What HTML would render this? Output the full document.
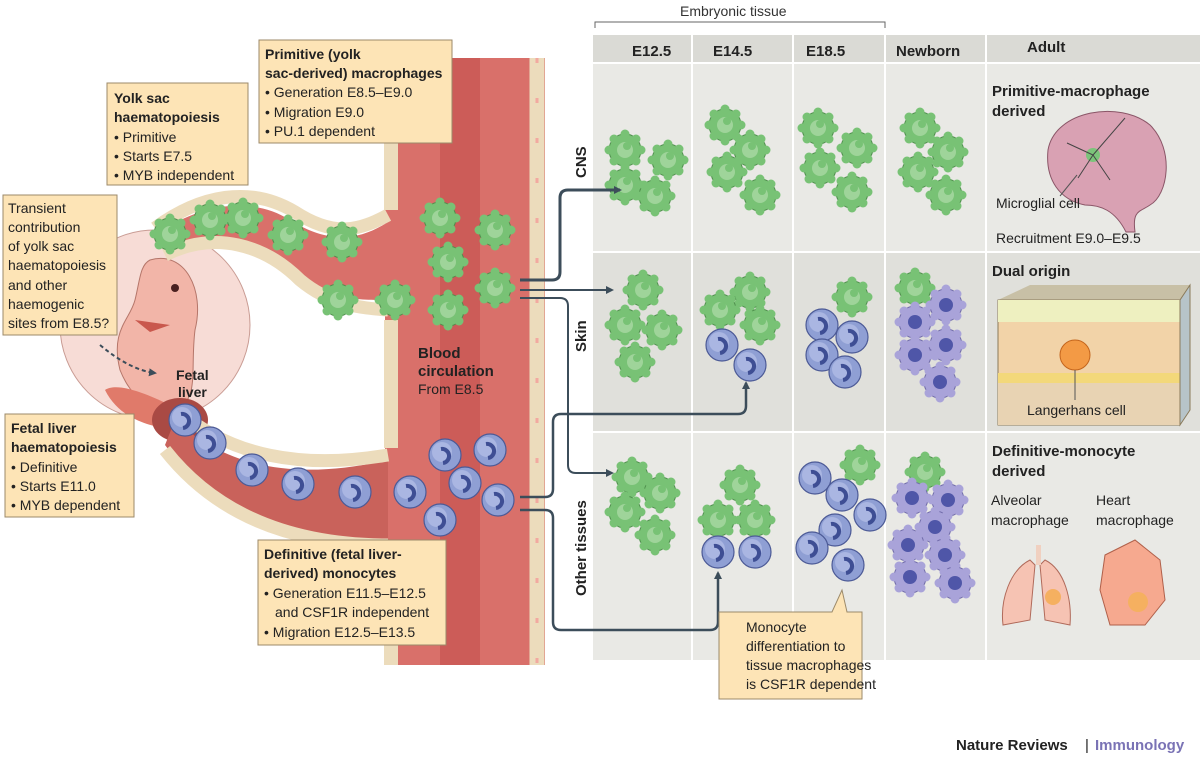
<!DOCTYPE html>
<html><head><meta charset="utf-8"><style>
body{margin:0;background:#fff}
svg text{font-family:"Liberation Sans",sans-serif}
</style></head><body>
<svg width="1200" height="760" viewBox="0 0 1200 760" xmlns="http://www.w3.org/2000/svg">
<defs>
<g id="g">
 <circle r="16" fill="#78c275" stroke="#4e8f4c" stroke-width="1"/>
 <circle cx="0" cy="-16" r="4.5" fill="#78c275"/><circle cx="11" cy="-11" r="4.5" fill="#78c275"/>
 <circle cx="16" cy="0" r="4.5" fill="#78c275"/><circle cx="11" cy="11" r="4.5" fill="#78c275"/>
 <circle cx="0" cy="16" r="4.5" fill="#78c275"/><circle cx="-11" cy="11" r="4.5" fill="#78c275"/>
 <circle cx="-16" cy="0" r="4.5" fill="#78c275"/><circle cx="-11" cy="-11" r="4.5" fill="#78c275"/>
 <circle r="8" fill="#9fd49a"/><circle cx="2" cy="-4" r="4" fill="#78c275"/>
</g>
<g id="p">
 <circle r="16" fill="#a9a3d9" stroke="#6f6aa8" stroke-width="1"/>
 <circle cx="0" cy="-16" r="4.5" fill="#a9a3d9"/><circle cx="11" cy="-11" r="4.5" fill="#a9a3d9"/>
 <circle cx="16" cy="0" r="4.5" fill="#a9a3d9"/><circle cx="11" cy="11" r="4.5" fill="#a9a3d9"/>
 <circle cx="0" cy="16" r="4.5" fill="#a9a3d9"/><circle cx="-11" cy="11" r="4.5" fill="#a9a3d9"/>
 <circle cx="-16" cy="0" r="4.5" fill="#a9a3d9"/><circle cx="-11" cy="-11" r="4.5" fill="#a9a3d9"/>
 <circle r="7" fill="#4f56a8"/>
</g>
<g id="b">
 <circle r="16" fill="#8f9fd4" stroke="#4c5a96" stroke-width="1.2"/>
 <circle cx="-3" cy="-3" r="10" fill="#aab6e2"/>
 <path d="M-4 -6 A6 6 0 1 1 -2 8" fill="none" stroke="#3e4e94" stroke-width="4"/>
</g>
<marker id="ah" markerWidth="8" markerHeight="8" refX="6" refY="4" orient="auto" markerUnits="userSpaceOnUse"><path d="M0 0 L8 4 L0 8 z" fill="#3c4d5a"/></marker>
</defs>

<rect x="593" y="35" width="607" height="625" fill="#e9e9e5"/>
<rect x="593" y="35" width="607" height="28" fill="#dadad5"/>
<rect x="593" y="252" width="607" height="180" fill="#e0e0db"/>
<g stroke="#fff" stroke-width="2">
<line x1="692" y1="35" x2="692" y2="660"/><line x1="793" y1="35" x2="793" y2="660"/>
<line x1="885" y1="35" x2="885" y2="660"/><line x1="986" y1="35" x2="986" y2="660"/>
<line x1="593" y1="63" x2="1200" y2="63"/><line x1="593" y1="252" x2="1200" y2="252"/><line x1="593" y1="432" x2="1200" y2="432"/>
</g>
<path d="M595 28 V22 H885 V28" fill="none" stroke="#666" stroke-width="1"/>
<text x="680" y="16" font-size="14" fill="#333">Embryonic tissue</text>
<g font-size="15" font-weight="bold" fill="#222">
<text x="632" y="56">E12.5</text><text x="713" y="56">E14.5</text><text x="806" y="56">E18.5</text><text x="896" y="56">Newborn</text><text x="1027" y="52">Adult</text>
<text x="992" y="96">Primitive-macrophage</text><text x="992" y="116">derived</text>
<text x="992" y="276">Dual origin</text>
<text x="992" y="456">Definitive-monocyte</text><text x="992" y="476">derived</text>
</g>
<g font-size="15" font-weight="bold" fill="#222">
<text transform="translate(586,178) rotate(-90)">CNS</text>
<text transform="translate(586,352) rotate(-90)">Skin</text>
<text transform="translate(586,596) rotate(-90)">Other tissues</text>
</g>

<path d="M1048 150 C1055 110 1120 100 1150 125 C1175 150 1168 195 1150 205 C1140 212 1132 210 1135 232 L1126 232 C1115 210 1100 205 1085 205 C1060 200 1045 180 1048 150 Z" fill="#d9a1b3" stroke="#8a5567" stroke-width="1"/>
<circle cx="1093" cy="155" r="7" fill="#7cc47a"/>
<path d="M1093 155 L1125 118 M1093 155 L1067 143 M1093 155 L1078 178 M1093 155 L1110 180" stroke="#444" stroke-width="1" fill="none"/>
<line x1="1077" y1="175" x2="1060" y2="196" stroke="#555"/>
<text x="996" y="208" font-size="14" fill="#222">Microglial cell</text>
<text x="996" y="243" font-size="14" fill="#222">Recruitment E9.0–E9.5</text>

<path d="M998 300 L1030 285 L1190 285 L1190 410 L1180 425 Z" fill="#c8c0a6"/>
<rect x="998" y="300" width="182" height="125" fill="#f2d3a8" stroke="#8a7a5a"/>
<rect x="998" y="300" width="182" height="22" fill="#eef0c0"/>
<rect x="998" y="373" width="182" height="10" fill="#f3d87a"/>
<rect x="998" y="383" width="182" height="42" fill="#e8d3b3"/>
<path d="M1180 300 L1190 285 L1190 410 L1180 425 Z" fill="#b7c4c9" stroke="#8a7a5a"/>
<circle cx="1075" cy="355" r="15" fill="#f39a45" stroke="#c4651c"/>
<line x1="1075" y1="370" x2="1075" y2="400" stroke="#555"/>
<text x="1027" y="415" font-size="14" fill="#222">Langerhans cell</text>

<text x="991" y="505" font-size="14" fill="#222">Alveolar</text><text x="991" y="525" font-size="14" fill="#222">macrophage</text>
<text x="1096" y="505" font-size="14" fill="#222">Heart</text><text x="1096" y="525" font-size="14" fill="#222">macrophage</text>
<path d="M1030 560 C1010 570 1000 600 1003 625 L1030 620 L1035 565 Z" fill="#f6c3b3" stroke="#b06a5a"/>
<path d="M1045 560 C1065 570 1072 600 1070 625 L1045 620 L1040 565 Z" fill="#f6c3b3" stroke="#b06a5a"/>
<rect x="1036" y="545" width="5" height="20" fill="#f0d0c0"/>
<circle cx="1053" cy="597" r="8" fill="#f5b060"/>
<path d="M1105 555 L1135 540 L1160 560 L1165 600 L1145 625 L1110 625 L1100 590 Z" fill="#f6a98f" stroke="#b0604a"/>
<circle cx="1138" cy="602" r="10" fill="#f5b060"/>

<g>
<use href="#g" x="625" y="150"/><use href="#g" x="668" y="160"/><use href="#g" x="625" y="185"/><use href="#g" x="655" y="196"/>
<use href="#g" x="725" y="125"/><use href="#g" x="750" y="150"/><use href="#g" x="727" y="172"/><use href="#g" x="760" y="195"/>
<use href="#g" x="818" y="128"/><use href="#g" x="857" y="148"/><use href="#g" x="820" y="168"/><use href="#g" x="852" y="192"/>
<use href="#g" x="920" y="128"/><use href="#g" x="948" y="152"/><use href="#g" x="918" y="172"/><use href="#g" x="946" y="195"/>
<use href="#g" x="643" y="290"/><use href="#g" x="625" y="325"/><use href="#g" x="662" y="330"/><use href="#g" x="635" y="362"/>
<use href="#g" x="750" y="292"/><use href="#g" x="720" y="310"/><use href="#g" x="760" y="325"/>
<use href="#b" x="722" y="345"/><use href="#b" x="750" y="365"/>
<use href="#g" x="852" y="297"/><use href="#b" x="822" y="325"/><use href="#b" x="852" y="337"/><use href="#b" x="822" y="355"/><use href="#b" x="845" y="372"/>
<use href="#g" x="915" y="288"/><use href="#p" x="946" y="305"/><use href="#p" x="915" y="322"/><use href="#p" x="946" y="345"/><use href="#p" x="915" y="355"/><use href="#p" x="940" y="382"/>
<use href="#g" x="632" y="477"/><use href="#g" x="660" y="493"/><use href="#g" x="625" y="512"/><use href="#g" x="655" y="535"/>
<use href="#g" x="740" y="485"/><use href="#g" x="718" y="520"/><use href="#g" x="755" y="520"/>
<use href="#b" x="718" y="552"/><use href="#b" x="755" y="552"/>
<use href="#g" x="860" y="465"/><use href="#b" x="815" y="478"/><use href="#b" x="842" y="495"/><use href="#b" x="870" y="515"/><use href="#b" x="835" y="530"/><use href="#b" x="812" y="548"/><use href="#b" x="848" y="565"/>
<use href="#g" x="925" y="472"/><use href="#p" x="912" y="498"/><use href="#p" x="948" y="500"/><use href="#p" x="935" y="527"/><use href="#p" x="908" y="545"/><use href="#p" x="945" y="555"/><use href="#p" x="910" y="577"/><use href="#p" x="955" y="583"/>
</g>

<circle cx="155" cy="325" r="95" fill="#f7dcd6" stroke="#c99c94"/>
<path d="M150 260 C185 250 205 290 195 330 C190 370 200 400 175 410 C150 415 130 395 120 370 C110 330 130 320 135 300 C140 280 140 265 150 260 Z" fill="#f2b5a8" stroke="#b5766a"/>
<circle cx="175" cy="288" r="4" fill="#4a2020"/>
<path d="M135 320 L170 325 L150 332 Z" fill="#c9584d"/>
<path d="M105 390 C120 380 160 400 180 410 L170 430 C150 425 120 420 105 390 Z" fill="#e07a6a"/>
<ellipse cx="180" cy="420" rx="28" ry="22" fill="#a94a44"/>
<path d="M100 345 Q130 370 155 373" fill="none" stroke="#3c4d5a" stroke-width="2" stroke-dasharray="4 3" marker-end="url(#ah)"/>
<text x="176" y="380" font-size="14" font-weight="bold" fill="#222">Fetal</text>
<text x="178" y="397" font-size="14" font-weight="bold" fill="#222">liver</text>

<rect x="385" y="58" width="160" height="607" fill="#d9706a"/>
<rect x="440" y="58" width="40" height="607" fill="#cc5c58"/>
<path d="M160 232 C200 205 250 195 290 220 C330 245 360 240 388 222 L388 300 C360 300 320 300 300 275 C270 250 220 235 170 250 Z" fill="#d9706a"/>
<path d="M155 228 C200 195 250 185 295 212 C335 238 360 230 388 215" fill="none" stroke="#ecdcbc" stroke-width="13"/>
<path d="M165 255 C215 230 265 245 300 280 C330 305 360 308 388 310" fill="none" stroke="#ecdcbc" stroke-width="13"/>
<path d="M175 420 C230 470 300 480 388 460 L388 540 C300 550 220 520 165 445 Z" fill="#c9625b"/>
<path d="M180 412 C230 455 300 470 388 455" fill="none" stroke="#ecdcbc" stroke-width="13"/>
<path d="M165 450 C220 520 300 545 388 545" fill="none" stroke="#ecdcbc" stroke-width="13"/>
<line x1="391" y1="140" x2="391" y2="210" stroke="#ecdcbc" stroke-width="14"/>
<line x1="391" y1="320" x2="391" y2="448" stroke="#ecdcbc" stroke-width="14"/>
<line x1="391" y1="552" x2="391" y2="665" stroke="#ecdcbc" stroke-width="14"/>
<line x1="537" y1="58" x2="537" y2="665" stroke="#ecdcbc" stroke-width="15"/>
<line x1="537" y1="58" x2="537" y2="665" stroke="#f2a9a0" stroke-width="3" stroke-dasharray="5 35"/>
<g>
<use href="#g" x="170" y="234"/><use href="#g" x="210" y="220"/><use href="#g" x="243" y="218"/><use href="#g" x="288" y="235"/>
<use href="#g" x="342" y="242"/><use href="#g" x="440" y="218"/><use href="#g" x="495" y="230"/><use href="#g" x="448" y="262"/>
<use href="#g" x="395" y="300"/><use href="#g" x="495" y="288"/><use href="#g" x="448" y="310"/><use href="#g" x="338" y="300"/>
<use href="#b" x="185" y="420"/><use href="#b" x="210" y="443"/><use href="#b" x="252" y="470"/><use href="#b" x="298" y="484"/>
<use href="#b" x="355" y="492"/><use href="#b" x="410" y="492"/><use href="#b" x="445" y="455"/><use href="#b" x="490" y="450"/>
<use href="#b" x="465" y="483"/><use href="#b" x="440" y="520"/><use href="#b" x="498" y="500"/>
</g>
<text x="418" y="358" font-size="15" font-weight="bold" fill="#222">Blood</text>
<text x="418" y="376" font-size="15" font-weight="bold" fill="#222">circulation</text>
<text x="418" y="394" font-size="14" fill="#222">From E8.5</text>

<g fill="none" stroke="#3c4d5a" stroke-width="3" stroke-linejoin="round">
<path d="M520 280 H552 Q560 280 560 272 V198 Q560 190 568 190 H620" marker-end="url(#ah)"/>
<path d="M520 290 H612" stroke-width="2" marker-end="url(#ah)"/>
<path d="M520 298 H560 Q568 298 568 306 V465 Q568 473 576 473 H612" stroke-width="2" marker-end="url(#ah)"/>
<path d="M520 497 H545 Q553 497 553 489 V422 Q553 414 561 414 H738 Q746 414 746 406 V383" stroke-width="2.5" marker-end="url(#ah)"/>
<path d="M520 510 H545 Q553 510 553 518 V622 Q553 630 561 630 H710 Q718 630 718 622 V573" stroke-width="2.5" marker-end="url(#ah)"/>
</g>

<g fill="#fde4b6" stroke="#9c8a6a" stroke-width="1">
<rect x="107" y="83" width="141" height="102"/>
<rect x="259" y="40" width="193" height="103"/>
<rect x="3" y="195" width="114" height="140"/>
<rect x="5" y="414" width="129" height="103"/>
<rect x="258" y="540" width="188" height="105"/>
<path d="M719 612 H832 L842 590 L847 612 H862 V699 H719 Z"/>
</g>
<g font-size="14" fill="#222">
<text x="114" y="103" font-weight="bold">Yolk sac</text>
<text x="114" y="122" font-weight="bold">haematopoiesis</text>
<text x="114" y="142">• Primitive</text><text x="114" y="161">• Starts E7.5</text><text x="114" y="180">• MYB independent</text>
<text x="265" y="59" font-weight="bold">Primitive (yolk</text>
<text x="265" y="78" font-weight="bold">sac-derived) macrophages</text>
<text x="265" y="97">• Generation E8.5–E9.0</text><text x="265" y="117">• Migration E9.0</text><text x="265" y="136">• PU.1 dependent</text>
<text x="8" y="213">Transient</text><text x="8" y="232">contribution</text><text x="8" y="251">of yolk sac</text><text x="8" y="270">haematopoiesis</text><text x="8" y="290">and other</text><text x="8" y="309">haemogenic</text><text x="8" y="328">sites from E8.5?</text>
<text x="11" y="433" font-weight="bold">Fetal liver</text>
<text x="11" y="452" font-weight="bold">haematopoiesis</text>
<text x="11" y="472">• Definitive</text><text x="11" y="491">• Starts E11.0</text><text x="11" y="510">• MYB dependent</text>
<text x="264" y="559" font-weight="bold">Definitive (fetal liver-</text>
<text x="264" y="578" font-weight="bold">derived) monocytes</text>
<text x="264" y="598">• Generation E11.5–E12.5</text><text x="275" y="617">and CSF1R independent</text><text x="264" y="637">• Migration E12.5–E13.5</text>
<text x="746" y="632">Monocyte</text><text x="746" y="651">differentiation to</text><text x="746" y="670">tissue macrophages</text><text x="746" y="689">is CSF1R dependent</text>
</g>
<text x="956" y="750" font-size="15" font-weight="bold" fill="#222">Nature Reviews</text>
<text x="1085" y="750" font-size="15" fill="#222">|</text>
<text x="1095" y="750" font-size="15" font-weight="bold" fill="#7a73b5">Immunology</text>
</svg>
</body></html>
